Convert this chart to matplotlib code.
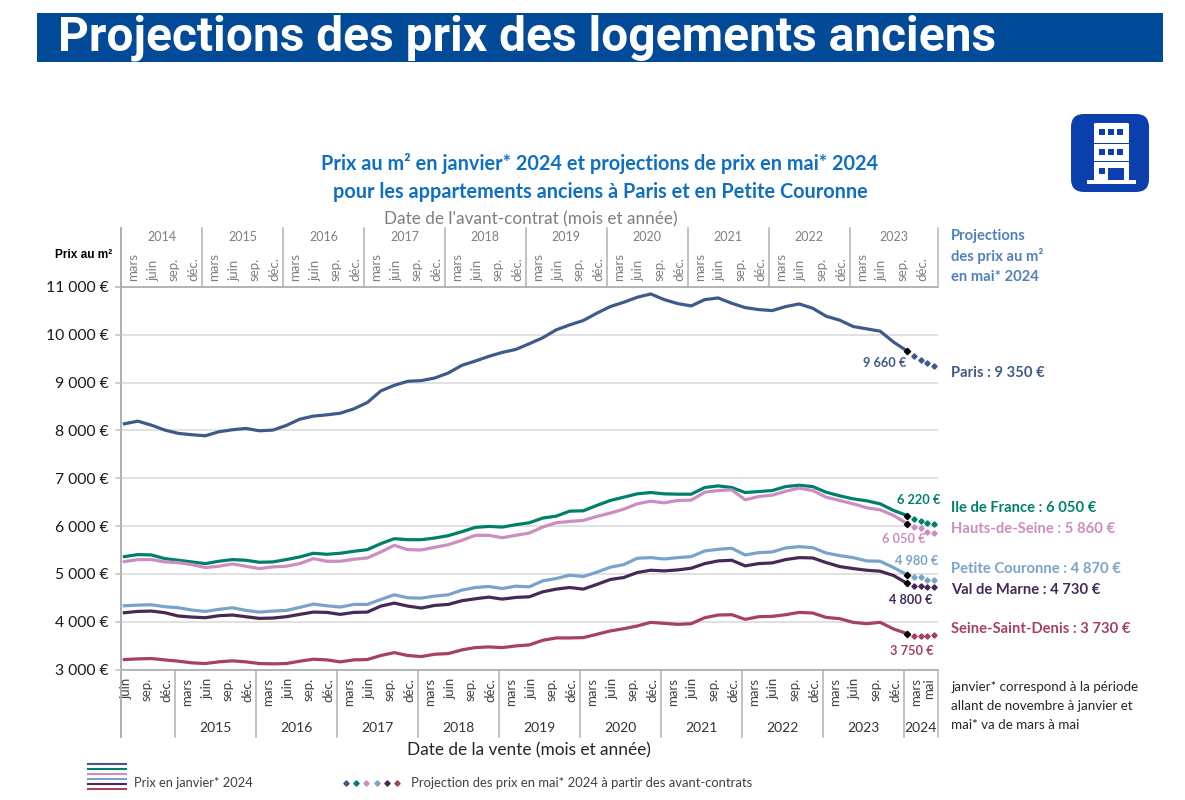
import matplotlib
matplotlib.use("Agg")
import matplotlib.pyplot as plt
import matplotlib.transforms as mtrans
from matplotlib.patches import FancyBboxPatch, Rectangle
import pandas as pd

plt.rcParams["font.family"] = ["Lato", "DejaVu Sans"]

W, H = 1185, 800

# prices read every two months, May 2014 -> Jan 2024
PARIS = [8139, 8194, 8111, 8007, 7938, 7910, 7889, 7972, 8014, 8042, 7993, 8007, 8104, 8236, 8299,
         8326, 8361, 8451, 8583, 8826, 8944, 9028, 9042, 9097, 9201, 9361, 9451, 9549, 9632, 9694,
         9813, 9938, 10104, 10208, 10299, 10451, 10590, 10681, 10785, 10854, 10736, 10653, 10604, 10736, 10771,
         10660, 10569, 10528, 10507, 10590, 10646, 10556, 10389, 10306, 10174, 10125, 10076, 9847, 9660]
IDF = [5361, 5403, 5396, 5319, 5285, 5250, 5215, 5264, 5299, 5285, 5243, 5250, 5299, 5354, 5431,
       5410, 5431, 5472, 5507, 5632, 5736, 5715, 5715, 5750, 5799, 5882, 5972, 5993, 5979, 6028,
       6069, 6167, 6208, 6312, 6319, 6431, 6535, 6604, 6674, 6701, 6674, 6667, 6667, 6806, 6840,
       6806, 6701, 6722, 6743, 6826, 6854, 6826, 6708, 6632, 6569, 6528, 6465, 6326, 6220]
HDS = [5257, 5299, 5299, 5250, 5236, 5194, 5132, 5160, 5208, 5160, 5111, 5146, 5160, 5215, 5319,
       5264, 5264, 5306, 5333, 5458, 5597, 5507, 5500, 5556, 5611, 5701, 5806, 5806, 5757, 5806,
       5854, 5979, 6069, 6097, 6118, 6201, 6271, 6354, 6465, 6521, 6486, 6535, 6542, 6708, 6743,
       6757, 6549, 6618, 6646, 6729, 6792, 6743, 6604, 6535, 6465, 6382, 6340, 6222, 6050]
PC = [4333, 4347, 4354, 4313, 4292, 4243, 4215, 4257, 4292, 4236, 4201, 4222, 4236, 4299, 4368,
      4333, 4306, 4361, 4361, 4465, 4563, 4500, 4493, 4535, 4563, 4660, 4715, 4736, 4694, 4743,
      4729, 4854, 4903, 4972, 4944, 5035, 5139, 5194, 5326, 5340, 5312, 5340, 5361, 5479, 5514,
      5535, 5396, 5444, 5458, 5542, 5569, 5549, 5437, 5382, 5340, 5271, 5264, 5132, 4980]
VDM = [4188, 4215, 4222, 4188, 4118, 4097, 4083, 4125, 4139, 4104, 4069, 4076, 4104, 4153, 4201,
       4194, 4153, 4194, 4201, 4326, 4389, 4326, 4285, 4340, 4361, 4438, 4479, 4514, 4472, 4507,
       4521, 4625, 4681, 4715, 4681, 4778, 4882, 4924, 5028, 5076, 5062, 5083, 5118, 5215, 5271,
       5285, 5167, 5215, 5229, 5299, 5340, 5333, 5236, 5153, 5111, 5076, 5056, 4965, 4800]
SSD = [3208, 3222, 3229, 3201, 3174, 3139, 3125, 3160, 3181, 3160, 3125, 3118, 3125, 3174, 3215,
       3201, 3160, 3201, 3208, 3292, 3354, 3292, 3271, 3319, 3333, 3410, 3458, 3472, 3458, 3493,
       3514, 3611, 3660, 3660, 3667, 3736, 3806, 3854, 3910, 3986, 3965, 3944, 3958, 4083, 4139,
       4146, 4049, 4104, 4111, 4146, 4194, 4181, 4090, 4063, 3986, 3958, 3986, 3847, 3750]

# Feb -> May 2024 projections
PROJ_PARIS = [9560, 9469, 9406, 9350]
PROJ_IDF = [6153, 6104, 6069, 6050]
PROJ_HDS = [5979, 5951, 5875, 5860]
PROJ_PC = [4931, 4931, 4882, 4870]
PROJ_VDM = [4743, 4743, 4729, 4730]
PROJ_SSD = [3708, 3708, 3708, 3730]

COLORS = ["#3f5a8a", "#00806a", "#cc8dc0", "#7aa3cc", "#452a56", "#a8405f"]

Y_TICKS = [3000, 4000, 5000, 6000, 7000, 8000, 9000, 10000, 11000]
MONTH_LABELS = {3: "mars", 6: "juin", 9: "sep.", 12: "déc."}

# right-hand labels: text, y in pixels
SIDE_LABELS = [("Paris : 9 350 €", 373), ("Ile de France : 6 050 €", 508), ("Hauts-de-Seine : 5 860 €", 529),
               ("Petite Couronne : 4 870 €", 569), ("Val de Marne : 4 730 €", 590),
               ("Seine-Saint-Denis : 3 730 €", 629)]
# January values next to the line ends: text, right edge x, y in pixels
END_LABELS = [("9 660 €", 906, 363), ("6 220 €", 940, 500), ("6 050 €", 925, 539),
              ("4 980 €", 938, 561), ("4 800 €", 932, 600), ("3 750 €", 933, 651)]

sale_months = pd.date_range("2014-05-01", "2024-05-01", freq="MS")
n_hist = 117  # May 2014 .. Jan 2024
hist_idx = list(range(0, n_hist, 2))
proj_idx = list(range(n_hist, len(sale_months)))

fig = plt.figure(figsize=(W / 100, H / 100), dpi=100)
L, R, T, B = 121, 937.5, 287, 669.5
ax = fig.add_axes([L / W, 1 - B / H, (R - L) / W, (B - T) / H])
ax.set_xlim(-0.5, len(sale_months) - 0.5)
ax.set_ylim(3000, 11000)

# overlay in figure pixels for everything outside the plot
ov = fig.add_axes([0, 0, 1, 1], zorder=5)
ov.set_xlim(0, W)
ov.set_ylim(H, 0)
ov.axis("off")


def ay(py):
    """axes-fraction y for a pixel row"""
    return (B - py) / (B - T)


for s in ax.spines.values():
    s.set_visible(False)
ax.set_yticks(Y_TICKS)
ax.set_yticklabels([f"{v:,}".replace(",", " ") + " €" for v in Y_TICKS], fontsize=11.3, color="#1a1a1a")
ax.tick_params(axis="y", length=0, pad=9)
ax.grid(axis="y", color="#d9d9d9", lw=1.1)
ax.set_axisbelow(True)

# bottom axis: sale date
offset = mtrans.ScaledTranslation(-5 / 100, 0, fig.dpi_scale_trans)
bot_ticks = [i for i, d in enumerate(sale_months) if d.month in MONTH_LABELS or i == len(sale_months) - 1]
bot_labels = [MONTH_LABELS.get(sale_months[i].month, "mai") for i in bot_ticks]
ax.set_xticks(bot_ticks)
ax.set_xticklabels(bot_labels, rotation=90, fontsize=9.5, color="#404040")
ax.tick_params(axis="x", length=0, pad=6)
for lab in ax.get_xticklabels():
    lab.set_transform(lab.get_transform() + offset)

# top axis: pre-contract date, 4 months ahead of the sale date
top_months = pd.date_range("2014-01-01", periods=len(sale_months), freq="MS")
ax_top = ax.twiny()
ax_top.set_xlim(ax.get_xlim())
for s in ax_top.spines.values():
    s.set_visible(False)
top_ticks = [i for i, d in enumerate(top_months) if d.month in MONTH_LABELS and d.year <= 2023]
ax_top.set_xticks(top_ticks)
ax_top.set_xticklabels([MONTH_LABELS[top_months[i].month] for i in top_ticks], rotation=90, fontsize=9.5, color="#7f7f7f")
ax_top.tick_params(axis="x", length=0, pad=4)
for lab in ax_top.get_xticklabels():
    lab.set_transform(lab.get_transform() + offset)

# year boxes
tr = ax.get_xaxis_transform()
xend = len(sale_months) - 0.5
for grid_py in (T, B):
    ax.plot([-0.5, xend], [ay(grid_py)] * 2, transform=tr, color="#b0b0b0", lw=1.3, clip_on=False)
ax.plot([-0.5, -0.5], [ay(737), ay(228)], transform=tr, color="#a8a8a8", lw=1.3, clip_on=False)
ax.plot([xend, xend], [ay(287), ay(228)], transform=tr, color="#b8b8b8", lw=1.1, clip_on=False)
ax.plot([xend, xend], [ay(737), ay(669.5)], transform=tr, color="#b8b8b8", lw=1.1, clip_on=False)
ax.plot([-0.5, -0.5 - 0.7], [1, 1], transform=tr, color="#b0b0b0", lw=1.1, clip_on=False)
for v in Y_TICKS[:-1]:
    ax.plot([-0.5 - 0.7, -0.5], [v, v], color="#c0c0c0", lw=1.1, clip_on=False)

for year in range(2014, 2024):
    start = list(top_months).index(pd.Timestamp(year, 1, 1)) - 0.5
    stop = min(start + 12, xend)
    if year > 2014:
        ax.plot([start, start], [ay(287), ay(228)], transform=tr, color="#b0b0b0", lw=1.1, clip_on=False)
    ax.text((start + (xend if year == 2023 else stop)) / 2, ay(237), str(year), transform=tr,
            ha="center", va="center", fontsize=9, color="#7f7f7f", clip_on=False)
for year in range(2015, 2025):
    start = list(sale_months).index(pd.Timestamp(year, 1, 1)) - 0.5
    stop = min(start + 12, xend)
    ax.plot([start, start], [ay(737), ay(669.5)], transform=tr, color="#b0b0b0", lw=1.1, clip_on=False)
    ax.text((start + stop) / 2, ay(728), str(year), transform=tr, ha="center", va="center",
            fontsize=10, color="#333333", clip_on=False)

# series
hist = [PARIS, IDF, HDS, PC, VDM, SSD]
proj = [PROJ_PARIS, PROJ_IDF, PROJ_HDS, PROJ_PC, PROJ_VDM, PROJ_SSD]
for values, future, color in zip(hist, proj, COLORS):
    ax.plot(hist_idx, values, color=color, lw=2.3, solid_joinstyle="round", zorder=3)
    ax.plot(proj_idx, future, ls="none", marker="D", ms=2.7, color=color, zorder=3)
    ax.plot(hist_idx[-1], values[-1], ls="none", marker="D", ms=3.2, color="black", zorder=4)

# header bar
ov.add_patch(Rectangle((37, 13), 1126, 49, color="#004a98", lw=0))
ov.text(58, 38, "Projections des prix des logements anciens", color="white", fontsize=34.5,
        family="Roboto", fontweight="bold", va="center", ha="left")

# titles
ov.text(600, 164, "Prix au m² en janvier* 2024 et projections de prix en mai* 2024", color="#0f6fc0",
        fontsize=14.3, fontweight="bold", ha="center", va="center")
ov.text(600, 192, "pour les appartements anciens à Paris et en Petite Couronne", color="#0f6fc0",
        fontsize=14.3, fontweight="bold", ha="center", va="center")
ov.text(531, 219, "Date de l'avant-contrat (mois et année)", color="#7f7f7f", fontsize=12.3, ha="center", va="center")
ov.text(529, 750, "Date de la vente (mois et année)", color="#262626", fontsize=12.4, ha="center", va="center")
ov.text(84, 255, "Prix au m²", color="black", fontsize=8.6, family="Liberation Sans", fontweight="bold",
        ha="center", va="center")

# icon
ov.add_patch(FancyBboxPatch((1071, 114), 78, 78, boxstyle="round,pad=0,rounding_size=13", lw=0, color="#0b3fae"))
ov.add_patch(FancyBboxPatch((1094, 123), 35, 58, boxstyle="round,pad=0,rounding_size=1.5", lw=0, color="white"))
ov.add_patch(Rectangle((1087, 180), 49, 3.5, lw=0, color="white"))
for row_y in (143, 161):
    ov.add_patch(Rectangle((1094, row_y), 35, 1, lw=0, color="#0b3fae"))
for wx in (1099, 1108, 1117):
    for wy in (129, 149):
        ov.add_patch(Rectangle((wx, wy), 6, 6, lw=0, color="#0b3fae"))
ov.add_patch(Rectangle((1099, 168), 6, 6, lw=0, color="#0b3fae"))
ov.add_patch(Rectangle((1108, 168), 16, 12, lw=0, color="#0b3fae"))

# right column
for txt, py in zip(["Projections", "des prix au m²", "en mai* 2024"], [236, 256, 277]):
    ov.text(951, py, txt, color="#4f81bd", fontsize=10.6, fontweight="bold", va="center")
for (txt, py), color in zip(SIDE_LABELS, COLORS):
    ov.text(951, py, txt, color=color, fontsize=10.6, fontweight="bold", va="center")
for (txt, px, py), color in zip(END_LABELS, COLORS):
    ov.text(px, py, txt, color=color, fontsize=9.2, fontweight="bold", ha="right", va="center")
for txt, py in zip(["janvier* correspond à la période", "allant de novembre à janvier et", "mai* va de mars à mai"],
                   [687, 706, 725]):
    ov.text(951, py, txt, color="#262626", fontsize=9.6, va="center")

# legend
for py, color in zip([764, 769, 774, 779, 784, 789], COLORS):
    ov.plot([88, 126], [py, py], color=color, lw=1.5)
ov.text(134, 783, "Prix en janvier* 2024", color="#404040", fontsize=9.3, va="center")
for px, color in zip([346, 356, 366, 377, 387, 397], COLORS):
    ov.plot(px, 783, marker="D", ms=2.7, color=color, ls="none")
ov.text(411, 783, "Projection des prix en mai* 2024 à partir des avant-contrats", color="#404040",
        fontsize=9.4, va="center")

fig.savefig("out.png", dpi=100)
plt.close(fig)
